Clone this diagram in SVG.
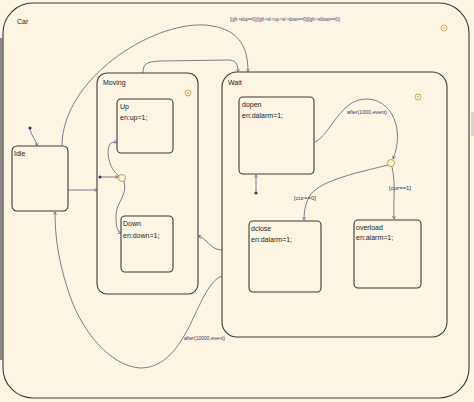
<svg xmlns="http://www.w3.org/2000/svg" width="474" height="402" viewBox="0 0 474 402">
<defs>
<style>
.st{fill:none;stroke:#3a3a3a;stroke-width:1.1}
.sh{fill:none;stroke:#5a5a5a;stroke-width:1.6}
.lbl{font-family:"Liberation Sans",Arial,sans-serif;font-size:7px;fill:#222}
.tl{font-family:"Liberation Sans",Arial,sans-serif;font-size:5.5px;fill:#33336a}
.tr{fill:none;stroke:#5c5c78;stroke-width:0.8}
.ic{fill:none;stroke:#c09a3a;stroke-width:0.8}
.jn{fill:#fff6d8;stroke:#b89a40;stroke-width:0.9}
.dot{fill:#3a3a5a}
</style>
<marker id="ar" viewBox="0 0 6 6" refX="5" refY="3" markerWidth="5" markerHeight="5" orient="auto">
<path d="M0,0.5 L5,3 L0,5.5" fill="none" stroke="#5c5c78" stroke-width="0.9"/>
</marker>
</defs>
<rect x="0" y="0" width="474" height="402" fill="#fdf5e4"/>
<rect x="0" y="38" width="2.5" height="322" fill="#8a8a8a"/>
<rect x="471" y="112" width="3" height="24" fill="#d8d4cc"/>

<g id="Car">
<rect x="3" y="3" width="466" height="395" rx="30" ry="30" class="st"/>
<text x="17" y="24" class="lbl">Car</text>
<circle cx="444" cy="28" r="3" class="ic"/><circle cx="444" cy="28" r="0.8" fill="#c09a3a"/>
</g>

<g id="Idle">
<rect x="12" y="146" width="56" height="65" rx="5" class="st"/>
<text x="14" y="156" class="lbl">Idle</text>
</g>

<g id="Moving">
<rect x="97" y="73" width="101" height="221" rx="10" class="st"/>
<text x="103" y="85" class="lbl">Moving</text>
<circle cx="188" cy="93" r="3" class="ic"/><circle cx="188" cy="93" r="0.8" fill="#c09a3a"/>
</g>

<g id="Up">
<rect x="117" y="99" width="56" height="54" rx="4" class="st"/>
<text x="120" y="109" class="lbl">Up</text>
<text x="120" y="120" class="lbl">en:up=1;</text>
</g>

<g id="Down">
<rect x="121" y="216" width="52" height="56" rx="4" class="st"/>
<text x="123" y="226" class="lbl">Down</text>
<text x="123" y="238" class="lbl">en:down=1;</text>
</g>

<g id="Wait">
<rect x="222" y="72" width="225" height="265" rx="15" class="st"/>
<text x="228" y="85" class="lbl">Wait</text>
<circle cx="418" cy="97" r="3" class="ic"/><circle cx="418" cy="97" r="0.8" fill="#c09a3a"/>
</g>

<g id="dopen">
<rect x="239" y="97" width="75" height="77" rx="4" class="st"/>
<text x="242" y="107" class="lbl">dopen</text>
<text x="242" y="118" class="lbl">en:dalarm=1;</text>
</g>

<g id="dclose">
<rect x="249" y="221" width="72" height="71" rx="4" class="st"/>
<text x="251" y="231" class="lbl">dclose</text>
<text x="251" y="242" class="lbl">en:dalarm=1;</text>
</g>

<g id="overload">
<rect x="354" y="220" width="67" height="68" rx="4" class="st"/>
<text x="356" y="230" class="lbl">overload</text>
<text x="356" y="240" class="lbl">en:alarm=1;</text>
</g>

<g id="junctions">
<circle cx="122" cy="178" r="3.5" class="jn"/>
<circle cx="391" cy="163" r="3.5" class="jn"/>
</g>

<g id="connectors">
<circle cx="30" cy="128" r="1.6" class="dot"/>
<path d="M30,129 C31,136 36,139 37,146" class="tr" marker-end="url(#ar)"/>
<circle cx="100" cy="177" r="1.6" class="dot"/>
<path d="M101,177 L118,177" class="tr" marker-end="url(#ar)"/>
<circle cx="256" cy="193" r="1.6" class="dot"/>
<path d="M256,192 L256,175" class="tr" marker-end="url(#ar)"/>

<path d="M119,176 C108,168 106,150 110,144 C112,142 114,142 117,142" class="tr" marker-end="url(#ar)"/>
<path d="M124,181 C128,195 116,203 116,215 C116,226 117,232 121,233" class="tr" marker-end="url(#ar)"/>
<path d="M68,190 L97,190" class="tr" marker-end="url(#ar)"/>
<path d="M143,73 C143,63 147,62 160,61 L228,60 C235,60 238,63 238,72" class="tr" marker-end="url(#ar)"/>
<path d="M62,146 C62,80 150,22 205,25 C238,28 248,45 248,72" class="tr" marker-end="url(#ar)"/>
<text x="230" y="21" class="tl" textLength="110" lengthAdjust="spacingAndGlyphs">[(gft-&gt;sfup==0)||(gft-&gt;sf-&gt;up-&gt;sf-&gt;down==0)||(gft-&gt;sfdown==0)]</text>

<path d="M222,250 C210,250 207,238 198,236" class="tr" marker-end="url(#ar)"/>

<path d="M222,276 C210,280 202,300 190,325 C175,355 160,368 140,368 C110,366 80,330 68,290 C58,260 55,235 55,212" class="tr" marker-end="url(#ar)"/>
<text x="184" y="340" class="tl" textLength="41" lengthAdjust="spacingAndGlyphs">after(10000,event)</text>

<path d="M315,142 C330,135 340,100 365,99 C392,98 405,130 393,159" class="tr" marker-end="url(#ar)"/>
<text x="347" y="114" class="tl" textLength="40" lengthAdjust="spacingAndGlyphs">after(1000,event)</text>

<path d="M388,165 C360,172 322,180 311,194 C305,203 304,212 304,220" class="tr" marker-end="url(#ar)"/>
<text x="294" y="200" class="tl" textLength="22" lengthAdjust="spacingAndGlyphs">[cur==0]</text>

<path d="M392,167 C396,185 393,200 394,219" class="tr" marker-end="url(#ar)"/>
<text x="389" y="190" class="tl" textLength="22" lengthAdjust="spacingAndGlyphs">[cur==1]</text>
</g>
</svg>
